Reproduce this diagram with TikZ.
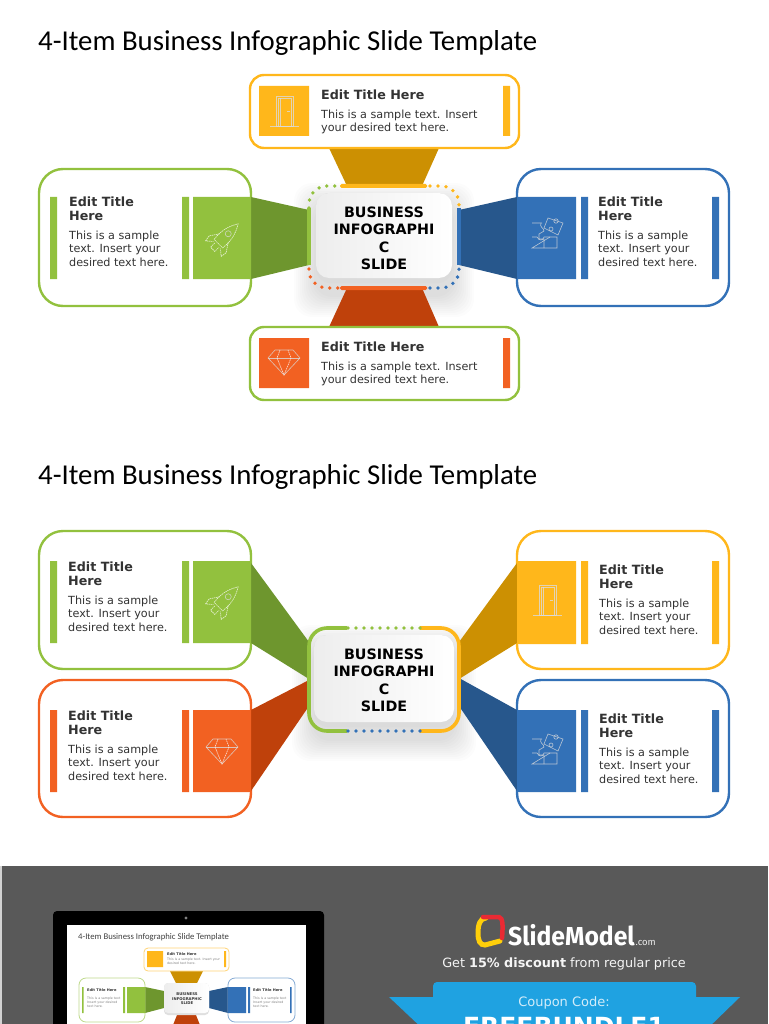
\documentclass[tikz,border=0pt]{standalone}
\usepackage{fontspec}
\setmainfont{DejaVu Sans}
\newfontfamily\headfont{Carlito}
\newfontfamily\logofont{Fira Sans}
\usetikzlibrary{positioning}
\definecolor{itemgreen}{HTML}{92C13E}
\definecolor{itemyellow}{HTML}{FFB71B}
\definecolor{itemblue}{HTML}{3371B7}
\definecolor{itemorange}{HTML}{F26122}
\definecolor{darkgreen}{HTML}{6E962E}
\definecolor{darkyellow}{HTML}{CC9002}
\definecolor{darkblue}{HTML}{27578C}
\definecolor{darkorange}{HTML}{BF410B}
\definecolor{panelgray}{HTML}{595959}
\definecolor{ribbonblue}{HTML}{1FA2E1}
\definecolor{bodytext}{HTML}{333333}
\definecolor{logored}{HTML}{EA2A33}
\definecolor{logoyellow}{HTML}{FFCF0A}
\tikzset{
  headline/.style={anchor=base west,inner sep=0,font=\headfont\fontsize{28.8}{30}\selectfont,text=black},
  cardtitle/.style={anchor=north west,inner sep=0,align=left,text=bodytext,font=\bfseries\fontsize{12.7}{14}\selectfont},
  cardbody/.style={anchor=north west,inner sep=0,align=left,text=bodytext,font=\fontsize{11.2}{13.4}\selectfont},
  centertext/.style={align=center,inner sep=0,text=black,font=\bfseries\fontsize{14.3}{17.5}\selectfont},
  cardline/.style={draw=#1,line width=2.4pt,fill=white},
  dotline/.style={draw=#1,line width=3.8pt,line cap=round,dash pattern=on 0pt off 8pt,rounded corners=18pt},
  iconline/.style={draw=white!72!gray,line width=0.6pt,opacity=0.8},
  dashline/.style={iconline,draw=white,dash pattern=on 1.5pt off 0.7pt},
  minititle/.style={anchor=west,inner sep=0,align=left,text=bodytext,font=\bfseries\fontsize{3.6}{4.2}\selectfont},
  minibody/.style={anchor=north west,inner sep=0,align=left,text=gray,font=\fontsize{3.2}{4}\selectfont},
  doorico/.pic={
    \draw[iconline] (-8,-15) rectangle (9,15);
    \draw[iconline] (-6,-13) rectangle (7,15);
    \draw[iconline] (-4,-13) -- (-4,15);
    \draw[iconline] (-14,15) -- (15,15);
    \draw[iconline] (3,0) -- (6,0);
  },
  rocketico/.pic={
    \begin{scope}[rotate=-45]
      \draw[dashline] (-6,8) .. controls (-8,-6) and (-3,-15) .. (0,-20) .. controls (3,-15) and (8,-6) .. (6,8) -- cycle;
      \draw[iconline] (0,-6) circle (3);
      \draw[dashline] (-6,0) -- (-12,9) -- (-11,15) -- (-5,10);
      \draw[dashline] (6,0) -- (12,9) -- (11,15) -- (5,10);
      \draw[dashline] (-3,10) -- (-3,16) -- (3,16) -- (3,10);
    \end{scope}
  },
  puzzleico/.pic={
    \draw[iconline] (-15,-10) -- (-5,-10) (3,4) -- (10,4) -- (10,15) -- (-15,15) -- cycle;
    \draw[iconline] (-6,-10) .. controls (-8,-6) and (-3,-5) .. (-3,-2) -- (-8,1) -- (-8,6) -- (-3,6) -- (-3,15);
    \draw[iconline] (-15,4) -- (-10,4) .. controls (-8,8) and (-4,8) .. (-3,4) -- (3,4);
    \draw[iconline] (1,-15) -- (16,-10) -- (11,2) -- (-3,-5) -- cycle;
    \draw[iconline] (9,-12) circle (2.2);
    \draw[iconline] (4,-4) circle (2);
  },
  gemico/.pic={
    \draw[iconline] (-9,-12) -- (9,-12) -- (16,-4) -- (0,13) -- (-16,-4) -- cycle;
    \draw[iconline] (-16,-4) -- (16,-4);
    \draw[dashline] (-4,-12) -- (-7,-4) -- (0,13) -- (7,-4) -- (4,-12);
  },
}
% soft shadow under the middle box of a group
\newcommand{\centershadow}[4]{%
  \foreach \k in {22,20,...,2}{
    \fill[black,opacity=0.01,rounded corners=18pt] (#1-\k,#2-\k+12) rectangle (#3+\k,#4+\k+12);
  }
}
\begin{document}
\begin{tikzpicture}[x=1pt,y=-1pt]
  \useasboundingbox (0,0) rectangle (768,1024);
  \fill[white] (0,0) rectangle (768,1024);

  %% first group
  \node[headline] (headtop) at (38,51) {4-Item Business Infographic Slide Template};

  \centershadow{316}{193}{452}{283}
  \fill[darkyellow] (329,148) -- (439,148) -- (422,186) -- (347,186) -- cycle;
  \fill[darkorange] (347,288) -- (422,288) -- (439,327) -- (329,327) -- cycle;
  \draw[cardline=itemyellow,rounded corners=14pt] (250,75) rectangle (519,148);
  \draw[cardline=itemgreen,rounded corners=14pt] (250,327) rectangle (519,400);
  \draw[cardline=itemgreen,rounded corners=24pt] (39,169) rectangle (251,306);
  \draw[cardline=itemblue,rounded corners=24pt] (517,169) rectangle (729,306);
  \fill[darkgreen] (251,197) -- (309,210) -- (309,265) -- (251,279) -- cycle;
  \fill[darkblue] (517,197) -- (459,210) -- (459,265) -- (517,279) -- cycle;

  \fill[itemyellow] (259,86) rectangle (309,136) (503,86) rectangle (510,136);
  \fill[itemorange] (259,338) rectangle (309,388) (503,338) rectangle (510,388);
  \fill[itemgreen] (50,197) rectangle (57,279) (182,197) rectangle (189,279) (193,197) rectangle (251,279);
  \fill[itemblue] (517,197) rectangle (576,279) (581,197) rectangle (588,279) (712,197) rectangle (719,279);

  \pic at (284,111) {doorico};
  \pic at (284,362) {gemico};
  \pic at (224,238) {rocketico};
  \pic at (547,233) {puzzleico};

  \node[cardtitle] (titlea) at (321,89.5) {Edit Title Here};
  \node[cardbody,below=10pt of titlea.south west,anchor=north west] (bodya) {This is a sample text. Insert\\your desired text here.};
  \node[cardtitle] (titleb) at (321,341.5) {Edit Title Here};
  \node[cardbody,below=10pt of titleb.south west,anchor=north west] (bodyb) {This is a sample text. Insert\\your desired text here.};
  \node[cardtitle] (titlec) at (69,196.5) {Edit Title\\Here};
  \node[cardbody,below=10pt of titlec.south west,anchor=north west] (bodyc) {This is a sample\\text. Insert your\\desired text here.};
  \node[cardtitle] (titled) at (598,196.5) {Edit Title\\Here};
  \node[cardbody,below=10pt of titled.south west,anchor=north west] (bodyd) {This is a sample\\text. Insert your\\desired text here.};

  \fill[gray!28,rounded corners=14pt] (316,193) rectangle (452,283);
  \shade[left color=gray!14,right color=white,rounded corners=13pt] (316,193) rectangle (452,278);
  \node[centertext] (mida) at (384,238.5) {BUSINESS\\INFOGRAPHI\\C\\SLIDE};

  \draw[dotline=itemgreen] (309,208) -- (309,186) -- (340,186);
  \draw[dotline=itemyellow] (430,186) -- (459,186) -- (459,206);
  \draw[dotline=itemorange] (309,269) -- (309,288) -- (338,288);
  \draw[dotline=itemblue] (430,288) -- (459,288) -- (459,268);
  \fill[itemyellow,rounded corners=1.5pt] (340,184) rectangle (427,188);
  \fill[itemorange,rounded corners=1.5pt] (340,286) rectangle (427,290);
  \fill[itemgreen] (307,208) rectangle (311,265);
  \fill[itemblue] (457,208) rectangle (461,265);

  %% second group
  \node[headline] (headlow) at (38,484) {4-Item Business Infographic Slide Template};

  \centershadow{314}{635}{454}{727}
  \draw[cardline=itemgreen,rounded corners=24pt] (39,531) rectangle (251,669);
  \draw[cardline=itemorange,rounded corners=24pt] (39,680) rectangle (251,817);
  \draw[cardline=itemyellow,rounded corners=24pt] (517,531) rectangle (729,669);
  \draw[cardline=itemblue,rounded corners=24pt] (517,680) rectangle (729,817);
  \fill[darkgreen] (251,563) -- (309,642) -- (309,679) -- (251,643) -- cycle;
  \fill[darkorange] (251,710) -- (309,680) -- (309,706) -- (251,791) -- cycle;
  \fill[darkyellow] (517,563) -- (459,642) -- (459,679) -- (517,643) -- cycle;
  \fill[darkblue] (517,710) -- (459,678) -- (459,706) -- (517,791) -- cycle;

  \fill[itemgreen] (50,561) rectangle (57,643) (182,561) rectangle (189,643) (193,561) rectangle (251,643);
  \fill[itemorange] (50,710) rectangle (57,792) (182,710) rectangle (189,792) (193,710) rectangle (251,792);
  \fill[itemyellow] (517,561) rectangle (576,644) (581,561) rectangle (588,644) (712,561) rectangle (719,644);
  \fill[itemblue] (517,710) rectangle (576,792) (581,710) rectangle (588,792) (712,710) rectangle (719,792);

  \pic at (547,600) {doorico};
  \pic at (224,601) {rocketico};
  \pic at (222,751) {gemico};
  \pic at (547,749) {puzzleico};

  \node[cardtitle] (titlee) at (68,561.5) {Edit Title\\Here};
  \node[cardbody,below=10pt of titlee.south west,anchor=north west] (bodye) {This is a sample\\text. Insert your\\desired text here.};
  \node[cardtitle] (titlef) at (68,710.5) {Edit Title\\Here};
  \node[cardbody,below=10pt of titlef.south west,anchor=north west] (bodyf) {This is a sample\\text. Insert your\\desired text here.};
  \node[cardtitle] (titleg) at (599,564.5) {Edit Title\\Here};
  \node[cardbody,below=10pt of titleg.south west,anchor=north west] (bodyg) {This is a sample\\text. Insert your\\desired text here.};
  \node[cardtitle] (titleh) at (599,713.5) {Edit Title\\Here};
  \node[cardbody,below=10pt of titleh.south west,anchor=north west] (bodyh) {This is a sample\\text. Insert your\\desired text here.};

  \fill[gray!28,rounded corners=14pt] (314,635) rectangle (454,727);
  \shade[left color=gray!14,right color=white,rounded corners=13pt] (314,635) rectangle (454,722);
  \node[centertext] (midb) at (384,680.5) {BUSINESS\\INFOGRAPHI\\C\\SLIDE};

  \draw[itemgreen,line width=3.6pt,rounded corners=18pt] (347,628) -- (309,628) -- (309,731) -- (347,731);
  \draw[itemyellow,line width=3.6pt,rounded corners=18pt] (420,628) -- (459,628) -- (459,731) -- (420,731);
  \draw[dotline=itemgreen] (348,628) -- (420,628);
  \draw[dotline=itemblue] (348,731) -- (420,731);

  %% promo panel
  \begin{scope}
    \clip (0,0) rectangle (768,1024);
    \fill[gray!35] (0,866) rectangle (2,1024);
    \fill[panelgray] (2,866) rectangle (768,1024);

    % tablet with its small slide
    \fill[black,rounded corners=4pt] (53,911) rectangle (324,1040);
    \fill[white] (67,925) rectangle (306,1040);
    \fill[gray] (186,918) circle (1.6);
    \node[anchor=west,inner sep=0,text=black!75,font=\headfont\fontsize{8.7}{10}\selectfont] (minihead) at (78,937) {4-Item Business Infographic Slide Template};

    \fill[darkyellow] (170,971) -- (203,971) -- (197,983) -- (176,983) -- cycle;
    \fill[darkorange] (177,1015) -- (196,1015) -- (202,1030) -- (171,1030) -- cycle;
    \fill[darkgreen] (145,987) -- (164,991) -- (164,1008) -- (145,1013) -- cycle;
    \fill[darkblue] (228,987) -- (209,991) -- (209,1008) -- (228,1013) -- cycle;
    \draw[itemyellow!60,line width=0.8pt,rounded corners=4pt,fill=white] (144,948) rectangle (229,971);
    \draw[itemgreen!60,line width=0.8pt,rounded corners=7pt] (79,978) rectangle (145,1022);
    \draw[itemblue!60,line width=0.8pt,rounded corners=7pt] (228,978) rectangle (295,1022);
    \fill[itemyellow] (147,951) rectangle (163,967) (224,951) rectangle (226,967);
    \fill[itemgreen] (82,987) rectangle (83.5,1013) (123,987) rectangle (125,1013) (127,987) rectangle (145,1013);
    \fill[itemblue] (228,987) rectangle (246,1013) (248,987) rectangle (250,1013) (290,987) rectangle (291.5,1013);
    \node[minititle] (minia) at (167,954) {Edit Title Here};
    \node[minibody] (minib) at (167,958) {This is a sample text. Insert your\\desired text here.};
    \node[minititle] (minic) at (87,990) {Edit Title Here};
    \node[minibody] (minid) at (87,997) {This is a sample text\\Insert your desired\\text here.};
    \node[minititle] (minie) at (253,990) {Edit Title Here};
    \node[minibody] (minif) at (253,997) {This is a sample text\\Insert your desired\\text here.};
    \fill[gray!25,rounded corners=4pt] (164,983) rectangle (209,1015);
    \shade[left color=gray!14,right color=white,rounded corners=4pt] (164,983) rectangle (209,1013);
    \node[align=center,inner sep=0,text=black!80,font=\bfseries\fontsize{3.8}{4.4}\selectfont] (minimid) at (187,999) {BUSINESS\\INFOGRAPHIC\\SLIDE};

    % logo and coupon
    \draw[logoyellow,line width=5pt,line cap=round] (486,918) .. controls (480,918) and (478,925) .. (478,933) .. controls (478,941) and (480,945) .. (485,945) -- (500,941);
    \draw[logored,line width=4.5pt,line cap=round] (483,917) -- (499,917) .. controls (503,918) and (503,925) .. (502,938);
    \node[anchor=base west,inner sep=0,text=white,font=\logofont\bfseries\fontsize{26}{28}\selectfont] (logotext) at (508,945) {\scalebox{0.95}[1]{SlideModel}};
    \node[right=0.5pt of logotext.base east,anchor=base west,inner sep=0,text=white!85!gray,font=\logofont\fontsize{9.5}{10}\selectfont] (logocom) {.com};
    \node[inner sep=0,text=white!92!gray,font=\fontsize{12.8}{14}\selectfont] (offer) at (564,963.5) {Get \textbf{15\% discount} from regular price};

    \fill[ribbonblue] (389,997) -- (740,997) -- (706,1030) -- (424,1030) -- cycle;
    \fill[ribbonblue,rounded corners=4pt] (433,1030) -- (433,982) -- (696,982) -- (696,1030) -- cycle;
    \node[inner sep=0,text=white!80!ribbonblue,font=\fontsize{13}{15}\selectfont] (couponhead) at (564,1003) {Coupon Code:};
    \node[anchor=base,inner sep=0,text=white,font=\bfseries\fontsize{25}{26}\selectfont] (couponcode) at (564,1035.5) {FREEBUNDLE1};
  \end{scope}
\end{tikzpicture}
\end{document}
